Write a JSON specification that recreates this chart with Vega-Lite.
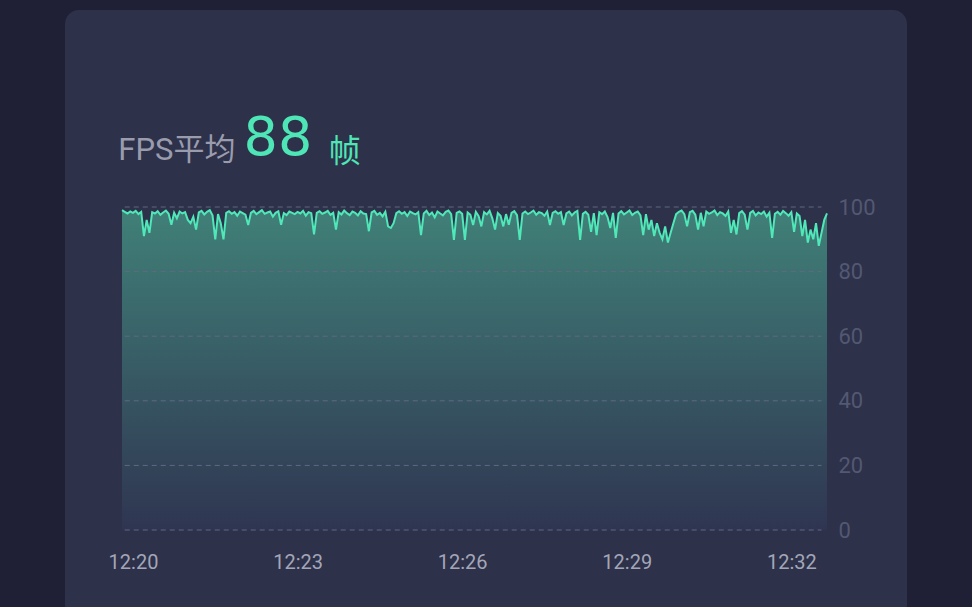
{
  "$schema": "https://vega.github.io/schema/vega-lite/v6.json",
  "autosize": {"type": "none"},
  "width": 842,
  "height": 610,
  "padding": {"left": 65, "top": 10, "right": 65, "bottom": 0},
  "background": "#1f2035",
  "config": {"view": {"fill": "#2d3149", "stroke": null, "cornerRadius": 14}},
  "layer": [
    {
      "data": {"values": [
        {"t":"12:19:48","v":99},{"t":"12:19:51","v":98.5},{"t":"12:19:54","v":98},{"t":"12:19:57","v":98.6},
        {"t":"12:20:00","v":98.2},{"t":"12:20:03","v":98.8},{"t":"12:20:06","v":97.8},{"t":"12:20:09","v":98.5},{"t":"12:20:12","v":91},{"t":"12:20:15","v":96},{"t":"12:20:18","v":92},{"t":"12:20:21","v":98.4},{"t":"12:20:24","v":98},{"t":"12:20:27","v":98.7},{"t":"12:20:30","v":97.6},{"t":"12:20:33","v":98.3},{"t":"12:20:36","v":98.9},{"t":"12:20:39","v":97.9},{"t":"12:20:42","v":94.5},{"t":"12:20:45","v":98.2},{"t":"12:20:48","v":96.5},{"t":"12:20:51","v":98.6},{"t":"12:20:54","v":98},{"t":"12:20:57","v":98.4},
        {"t":"12:21:00","v":96},{"t":"12:21:03","v":95},{"t":"12:21:06","v":97},{"t":"12:21:09","v":93},{"t":"12:21:12","v":98.3},{"t":"12:21:15","v":98.8},{"t":"12:21:18","v":97.7},{"t":"12:21:21","v":98.5},{"t":"12:21:24","v":99},{"t":"12:21:27","v":97.4},{"t":"12:21:30","v":90},{"t":"12:21:33","v":97.8},{"t":"12:21:36","v":95},{"t":"12:21:39","v":90},{"t":"12:21:42","v":98.2},{"t":"12:21:45","v":98.7},{"t":"12:21:48","v":97.9},{"t":"12:21:51","v":98.4},{"t":"12:21:54","v":97.3},{"t":"12:21:57","v":98.6},
        {"t":"12:22:00","v":98.1},{"t":"12:22:03","v":97.6},{"t":"12:22:06","v":94.4},{"t":"12:22:09","v":98.2},{"t":"12:22:12","v":98.8},{"t":"12:22:15","v":97.8},{"t":"12:22:18","v":98.4},{"t":"12:22:21","v":99},{"t":"12:22:24","v":97.9},{"t":"12:22:27","v":98.3},{"t":"12:22:30","v":98.6},{"t":"12:22:33","v":97},{"t":"12:22:36","v":98.2},{"t":"12:22:39","v":98.7},{"t":"12:22:42","v":94.5},{"t":"12:22:45","v":98.1},{"t":"12:22:48","v":97.5},{"t":"12:22:51","v":98.6},{"t":"12:22:54","v":98.2},{"t":"12:22:57","v":97.8},
        {"t":"12:23:00","v":98.5},{"t":"12:23:03","v":98},{"t":"12:23:06","v":98.8},{"t":"12:23:09","v":97.3},{"t":"12:23:12","v":98.4},{"t":"12:23:15","v":98.1},{"t":"12:23:18","v":91.5},{"t":"12:23:21","v":98.2},{"t":"12:23:24","v":98.7},{"t":"12:23:27","v":97.9},{"t":"12:23:30","v":98.3},{"t":"12:23:33","v":98.8},{"t":"12:23:36","v":97.6},{"t":"12:23:39","v":98.2},{"t":"12:23:42","v":93},{"t":"12:23:45","v":98.4},{"t":"12:23:48","v":97.7},{"t":"12:23:51","v":98.9},{"t":"12:23:54","v":98.1},{"t":"12:23:57","v":97.5},
        {"t":"12:24:00","v":98.6},{"t":"12:24:03","v":98.2},{"t":"12:24:06","v":97.4},{"t":"12:24:09","v":98.7},{"t":"12:24:12","v":98},{"t":"12:24:15","v":97.8},{"t":"12:24:18","v":92.5},{"t":"12:24:21","v":98.3},{"t":"12:24:24","v":98.8},{"t":"12:24:27","v":97.6},{"t":"12:24:30","v":98.2},{"t":"12:24:33","v":97.1},{"t":"12:24:36","v":98.5},{"t":"12:24:39","v":94},{"t":"12:24:42","v":93.5},{"t":"12:24:45","v":95},{"t":"12:24:48","v":98.1},{"t":"12:24:51","v":98.7},{"t":"12:24:54","v":97.9},{"t":"12:24:57","v":98.4},
        {"t":"12:25:00","v":97.2},{"t":"12:25:03","v":98.6},{"t":"12:25:06","v":98.1},{"t":"12:25:09","v":97.7},{"t":"12:25:12","v":98.4},{"t":"12:25:15","v":91.3},{"t":"12:25:18","v":98},{"t":"12:25:21","v":98.8},{"t":"12:25:24","v":97.5},{"t":"12:25:27","v":98.3},{"t":"12:25:30","v":96.8},{"t":"12:25:33","v":98.6},{"t":"12:25:36","v":98},{"t":"12:25:39","v":97.4},{"t":"12:25:42","v":98.5},{"t":"12:25:45","v":98.9},{"t":"12:25:48","v":97.8},{"t":"12:25:51","v":89.8},{"t":"12:25:54","v":98.2},{"t":"12:25:57","v":98.6},
        {"t":"12:26:00","v":97.9},{"t":"12:26:03","v":89.8},{"t":"12:26:06","v":98.3},{"t":"12:26:09","v":97.6},{"t":"12:26:12","v":94.4},{"t":"12:26:15","v":98.5},{"t":"12:26:18","v":97.2},{"t":"12:26:21","v":94},{"t":"12:26:24","v":98.4},{"t":"12:26:27","v":97.7},{"t":"12:26:30","v":98.8},{"t":"12:26:33","v":96.5},{"t":"12:26:36","v":93},{"t":"12:26:39","v":98.1},{"t":"12:26:42","v":97.3},{"t":"12:26:45","v":94},{"t":"12:26:48","v":97.8},{"t":"12:26:51","v":94.5},{"t":"12:26:54","v":98.2},{"t":"12:26:57","v":98.7},
        {"t":"12:27:00","v":97.5},{"t":"12:27:03","v":89.8},{"t":"12:27:06","v":98},{"t":"12:27:09","v":98.6},{"t":"12:27:12","v":97.8},{"t":"12:27:15","v":98.3},{"t":"12:27:18","v":98.9},{"t":"12:27:21","v":97.6},{"t":"12:27:24","v":98.4},{"t":"12:27:27","v":98.1},{"t":"12:27:30","v":97.3},{"t":"12:27:33","v":98.6},{"t":"12:27:36","v":94.4},{"t":"12:27:39","v":98.2},{"t":"12:27:42","v":98.7},{"t":"12:27:45","v":97.9},{"t":"12:27:48","v":98.4},{"t":"12:27:51","v":94.4},{"t":"12:27:54","v":98},{"t":"12:27:57","v":98.6},
        {"t":"12:28:00","v":97.4},{"t":"12:28:03","v":98.3},{"t":"12:28:06","v":98.8},{"t":"12:28:09","v":89.8},{"t":"12:28:12","v":97.9},{"t":"12:28:15","v":98.5},{"t":"12:28:18","v":97.6},{"t":"12:28:21","v":92.3},{"t":"12:28:24","v":98.1},{"t":"12:28:27","v":91.3},{"t":"12:28:30","v":98.4},{"t":"12:28:33","v":97.8},{"t":"12:28:36","v":98.6},{"t":"12:28:39","v":96.9},{"t":"12:28:42","v":93.5},{"t":"12:28:45","v":98.2},{"t":"12:28:48","v":90.4},{"t":"12:28:51","v":98},{"t":"12:28:54","v":98.7},{"t":"12:28:57","v":97.7},
        {"t":"12:29:00","v":98.3},{"t":"12:29:03","v":98.9},{"t":"12:29:06","v":97.5},{"t":"12:29:09","v":98.2},{"t":"12:29:12","v":98.6},{"t":"12:29:15","v":97.4},{"t":"12:29:18","v":91.3},{"t":"12:29:21","v":97.8},{"t":"12:29:24","v":93},{"t":"12:29:27","v":96},{"t":"12:29:30","v":91},{"t":"12:29:33","v":95},{"t":"12:29:36","v":92},{"t":"12:29:39","v":90},{"t":"12:29:42","v":94},{"t":"12:29:45","v":89},{"t":"12:29:48","v":92},{"t":"12:29:51","v":95},{"t":"12:29:54","v":97.8},{"t":"12:29:57","v":98.5},
        {"t":"12:30:00","v":98.9},{"t":"12:30:03","v":97.8},{"t":"12:30:06","v":94},{"t":"12:30:09","v":98.4},{"t":"12:30:12","v":98.8},{"t":"12:30:15","v":97.6},{"t":"12:30:18","v":93},{"t":"12:30:21","v":98.2},{"t":"12:30:24","v":94},{"t":"12:30:27","v":98.6},{"t":"12:30:30","v":97.9},{"t":"12:30:33","v":98.3},{"t":"12:30:36","v":98.9},{"t":"12:30:39","v":97.5},{"t":"12:30:42","v":98.4},{"t":"12:30:45","v":98},{"t":"12:30:48","v":97.2},{"t":"12:30:51","v":98.6},{"t":"12:30:54","v":92},{"t":"12:30:57","v":96},
        {"t":"12:31:00","v":91.5},{"t":"12:31:03","v":98.1},{"t":"12:31:06","v":98.7},{"t":"12:31:09","v":97.6},{"t":"12:31:12","v":93},{"t":"12:31:15","v":98.2},{"t":"12:31:18","v":98.8},{"t":"12:31:21","v":97.4},{"t":"12:31:24","v":98.3},{"t":"12:31:27","v":97.8},{"t":"12:31:30","v":98.6},{"t":"12:31:33","v":97},{"t":"12:31:36","v":98.2},{"t":"12:31:39","v":90.4},{"t":"12:31:42","v":97.9},{"t":"12:31:45","v":98.5},{"t":"12:31:48","v":97.6},{"t":"12:31:51","v":98.8},{"t":"12:31:54","v":98.1},{"t":"12:31:57","v":97.3},
        {"t":"12:32:00","v":98.4},{"t":"12:32:03","v":92.3},{"t":"12:32:06","v":98},{"t":"12:32:09","v":97.2},{"t":"12:32:12","v":91},{"t":"12:32:15","v":96},{"t":"12:32:18","v":89},{"t":"12:32:21","v":93},{"t":"12:32:24","v":90},{"t":"12:32:27","v":95},{"t":"12:32:30","v":88},{"t":"12:32:33","v":92},{"t":"12:32:36","v":96},{"t":"12:32:39","v":98}
      ], "format": {"parse": {"t": "date:'%H:%M:%S'"}}},
      "layer": [
        {
          "mark": {"type": "area", "interpolate": "linear", "fill": {"gradient": "linear", "x1": 0, "y1": 0, "x2": 0, "y2": 1, "stops": [{"offset": 0, "color": "#408078"}, {"offset": 1, "color": "#2f3551"}]}},
          "encoding": {
            "x": {"field": "t", "type": "temporal",
              "scale": {"domain": [{"year": 1900, "month": 1, "date": 1, "hours": 12, "minutes": 19, "seconds": 48}, {"year": 1900, "month": 1, "date": 1, "hours": 12, "minutes": 32, "seconds": 39}], "range": [57, 762], "nice": false},
              "axis": {"title": null, "values": [
                {"year": 1900, "month": 1, "date": 1, "hours": 12, "minutes": 20},
                {"year": 1900, "month": 1, "date": 1, "hours": 12, "minutes": 23},
                {"year": 1900, "month": 1, "date": 1, "hours": 12, "minutes": 26},
                {"year": 1900, "month": 1, "date": 1, "hours": 12, "minutes": 29},
                {"year": 1900, "month": 1, "date": 1, "hours": 12, "minutes": 32}],
                "format": "%H:%M", "offset": -90, "domain": false, "ticks": false, "tickSize": 0, "grid": false,
                "labelFlush": false, "labelOverlap": false, "labelPadding": 32, "labelBaseline": "middle",
                "labelFont": "Roboto", "labelFontSize": 20, "labelColor": "#a3a6b8"}},
            "y": {"field": "v", "type": "quantitative",
              "scale": {"domain": [0, 100], "range": [520, 197], "nice": false},
              "axis": {"title": null, "orient": "right", "values": [0, 20, 40, 60, 80, 100], "offset": -80, "domain": false, "ticks": false, "tickSize": 0, "grid": false,
                "labelPadding": 11, "labelAlign": "left", "labelBaseline": "middle",
                "labelFont": "Roboto", "labelFontSize": 22, "labelColor": "#535873"}}
          }
        },
        {
          "mark": {"type": "line", "interpolate": "linear", "color": "#50e8b8", "strokeWidth": 2},
          "encoding": {
            "x": {"field": "t", "type": "temporal"},
            "y": {"field": "v", "type": "quantitative"}
          }
        }
      ]
    },
    {
      "data": {"values": [{"g": 0}, {"g": 20}, {"g": 40}, {"g": 60}, {"g": 80}, {"g": 100}]},
      "mark": {"type": "rule", "color": "#626883", "strokeWidth": 1, "strokeDash": [5, 4]},
      "encoding": {
        "y": {"field": "g", "type": "quantitative"},
        "x": {"datum": {"year": 1900, "month": 1, "date": 1, "hours": 12, "minutes": 19, "seconds": 51}, "type": "temporal"},
        "x2": {"datum": {"year": 1900, "month": 1, "date": 1, "hours": 12, "minutes": 32, "seconds": 33}}
      }
    },
    {
      "data": {"values": [{}]},
      "mark": {"type": "text", "text": "FPS平均", "align": "left", "baseline": "alphabetic", "font": "Roboto, Noto Sans CJK SC", "fontSize": 31, "color": "#9a9cae"},
      "encoding": {
        "x": {"datum": {"year": 1900, "month": 1, "date": 1, "hours": 12, "minutes": 19, "seconds": 44}, "type": "temporal"},
        "y": {"datum": 114.6, "type": "quantitative"}
      }
    },
    {
      "data": {"values": [{}]},
      "mark": {"type": "text", "text": "88", "align": "left", "baseline": "alphabetic", "font": "DejaVu Sans", "fontSize": 54, "color": "#4ee6b6"},
      "encoding": {
        "x": {"datum": {"year": 1900, "month": 1, "date": 1, "hours": 12, "minutes": 22, "seconds": 1}, "type": "temporal"},
        "y": {"datum": 116.1, "type": "quantitative"}
      }
    },
    {
      "data": {"values": [{}]},
      "mark": {"type": "text", "text": "帧", "align": "left", "baseline": "alphabetic", "font": "Noto Sans CJK SC", "fontSize": 32, "color": "#4ee6b6"},
      "encoding": {
        "x": {"datum": {"year": 1900, "month": 1, "date": 1, "hours": 12, "minutes": 23, "seconds": 34}, "type": "temporal"},
        "y": {"datum": 114.0, "type": "quantitative"}
      }
    }
  ]
}
